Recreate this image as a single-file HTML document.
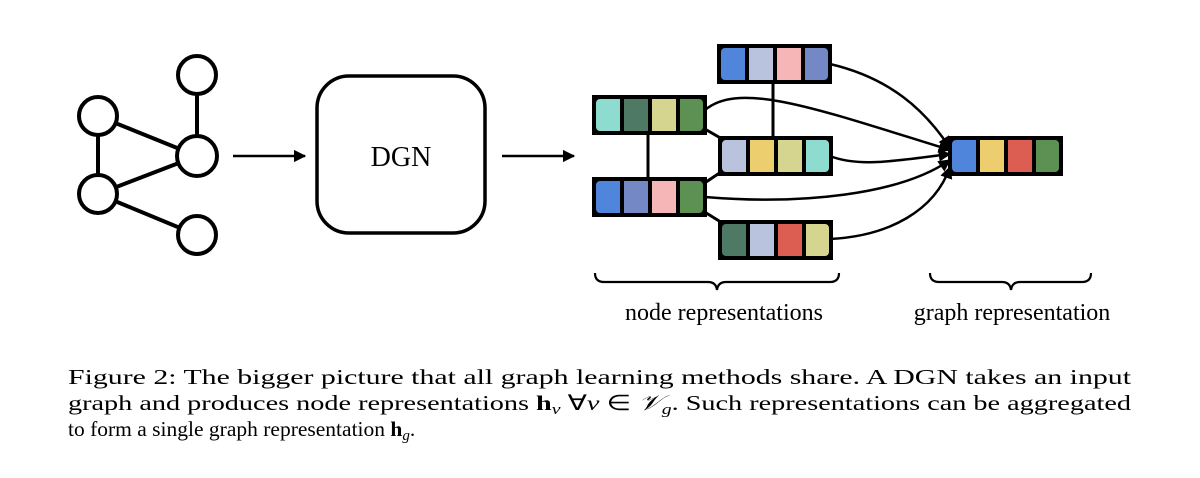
<!DOCTYPE html>
<html><head><meta charset="utf-8"><style>
html,body{margin:0;padding:0;background:#fff;}
svg{display:block;}
.t{font-family:"Liberation Serif",serif;}
</style></head><body>
<svg width="1200" height="478" viewBox="0 0 1200 478" xmlns="http://www.w3.org/2000/svg">
<defs>
<marker id="ah" viewBox="0 0 10 10" refX="9" refY="5" markerWidth="5" markerHeight="5" orient="auto" markerUnits="strokeWidth">
<path d="M0,0 L10,5 L0,10 z" fill="#000"/></marker>
</defs>
<g stroke="#000" stroke-width="4" fill="none">
<line x1="197" y1="75" x2="197" y2="156"/>
<line x1="98" y1="116" x2="98" y2="194"/>
<line x1="98" y1="116" x2="197" y2="156"/>
<line x1="98" y1="194" x2="197" y2="156"/>
<line x1="98" y1="194" x2="197" y2="235"/>
</g>
<g stroke="#000" stroke-width="4" fill="#fff">
<circle cx="197" cy="75" r="19"/>
<circle cx="98" cy="116" r="19"/>
<circle cx="197" cy="156" r="20"/>
<circle cx="98" cy="194" r="19"/>
<circle cx="197" cy="235" r="19"/>
</g>
<g stroke="#000" stroke-width="2.5">
<line x1="233" y1="156" x2="305" y2="156" marker-end="url(#ah)"/>
<line x1="502" y1="156" x2="574" y2="156" marker-end="url(#ah)"/>
</g>
<rect x="317" y="76" width="168" height="157" rx="32" fill="none" stroke="#000" stroke-width="3.5"/>
<text x="401" y="166" class="t" font-size="28" text-anchor="middle">DGN</text>

<g stroke="#000" stroke-width="3" fill="none">
<line x1="648" y1="130" x2="648" y2="181"/>
<line x1="773" y1="80" x2="773" y2="139"/>
<line x1="703" y1="128" x2="724" y2="140"/>
<line x1="703" y1="184" x2="724" y2="170"/>
<line x1="703" y1="211" x2="724" y2="224"/>
</g>
<g stroke="#000" stroke-width="2.5" fill="none" marker-end="url(#ah)">
<path d="M830,64 C890,78 925,110 950,148"/>
<path d="M705,110 C740,80 820,110 950,150"/>
<path d="M830,156 C860,168 900,160 950,154"/>
<path d="M705,197 C800,205 900,195 950,160"/>
<path d="M830,239 C890,236 935,210 950,167"/>
</g>

<g stroke="#000" stroke-width="4">
<!-- top -->
<g transform="translate(719,46)">
<rect x="0" y="0" width="28" height="36" fill="#4f86dc"/><rect x="28" y="0" width="28" height="36" fill="#b9c3dd"/><rect x="56" y="0" width="28" height="36" fill="#f6b5b7"/><rect x="84" y="0" width="27" height="36" fill="#7488c5"/>
<rect x="0" y="0" width="111" height="36" rx="6" fill="none"/></g>
<g transform="translate(594,97)">
<rect x="0" y="0" width="28" height="36" fill="#8edbd0"/><rect x="28" y="0" width="28" height="36" fill="#4e7a65"/><rect x="56" y="0" width="28" height="36" fill="#d6d58f"/><rect x="84" y="0" width="27" height="36" fill="#5d9153"/>
<rect x="0" y="0" width="111" height="36" rx="6" fill="none"/></g>
<g transform="translate(720,138)">
<rect x="0" y="0" width="28" height="36" fill="#b9c3dd"/><rect x="28" y="0" width="28" height="36" fill="#ecce6e"/><rect x="56" y="0" width="28" height="36" fill="#d6d58f"/><rect x="84" y="0" width="27" height="36" fill="#8edbd0"/>
<rect x="0" y="0" width="111" height="36" rx="6" fill="none"/></g>
<g transform="translate(594,179)">
<rect x="0" y="0" width="28" height="36" fill="#4f86dc"/><rect x="28" y="0" width="28" height="36" fill="#7488c5"/><rect x="56" y="0" width="28" height="36" fill="#f6b5b7"/><rect x="84" y="0" width="27" height="36" fill="#5d9153"/>
<rect x="0" y="0" width="111" height="36" rx="6" fill="none"/></g>
<g transform="translate(720,222)">
<rect x="0" y="0" width="28" height="36" fill="#4e7a65"/><rect x="28" y="0" width="28" height="36" fill="#b9c3dd"/><rect x="56" y="0" width="28" height="36" fill="#dc5d52"/><rect x="84" y="0" width="27" height="36" fill="#d6d58f"/>
<rect x="0" y="0" width="111" height="36" rx="6" fill="none"/></g>
<g transform="translate(950,138)">
<rect x="0" y="0" width="28" height="36" fill="#4f86dc"/><rect x="28" y="0" width="28" height="36" fill="#ecce6e"/><rect x="56" y="0" width="28" height="36" fill="#dc5d52"/><rect x="84" y="0" width="27" height="36" fill="#5d9153"/>
<rect x="0" y="0" width="111" height="36" rx="6" fill="none"/></g>
</g>

<g stroke="#000" stroke-width="2.2" fill="none">
<path d="M595,273 Q595,282 604,282 L708,282 Q716,282 717,290 Q718,282 726,282 L830,282 Q839,282 839,273"/>
<path d="M930,273 Q930,282 939,282 L1002,282 Q1010,282 1011,290 Q1012,282 1020,282 L1082,282 Q1091,282 1091,273"/>
</g>
<text x="724" y="320" class="t" font-size="24" text-anchor="middle">node representations</text>
<text x="1012" y="320" class="t" font-size="24" text-anchor="middle">graph representation</text>

<g class="t" font-size="21.5">
<text x="68" y="384" textLength="1063" lengthAdjust="spacingAndGlyphs">Figure 2: The bigger picture that all graph learning methods share. A DGN takes an input</text>
<text x="68" y="410" textLength="1063" lengthAdjust="spacingAndGlyphs">graph and produces node representations <tspan font-weight="bold">h</tspan><tspan font-style="italic" font-size="15" dy="4">v</tspan><tspan dy="-4"> ∀</tspan><tspan font-style="italic">v</tspan> ∈ <tspan font-style="italic">𝒱</tspan><tspan font-style="italic" font-size="15" dy="4">g</tspan><tspan dy="-4">. Such representations can be aggregated</tspan></text>
<text x="68" y="436">to form a single graph representation <tspan font-weight="bold">h</tspan><tspan font-style="italic" font-size="15" dy="4">g</tspan><tspan dy="-4">.</tspan></text>
</g>
</svg>
</body></html>
